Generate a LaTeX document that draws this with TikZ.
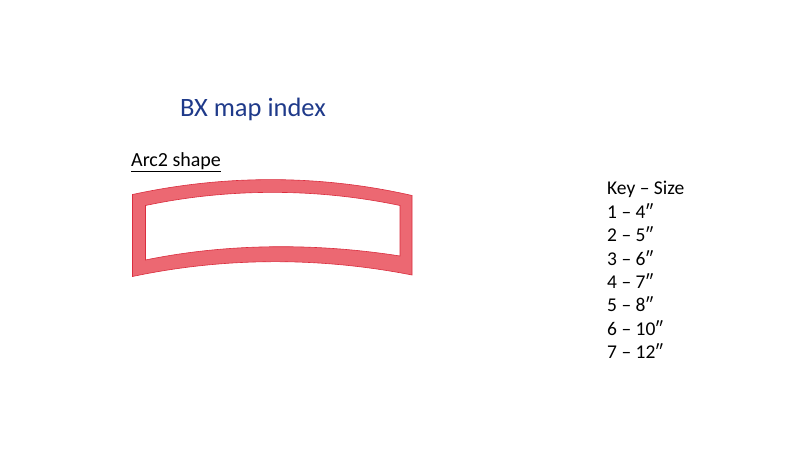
\documentclass[tikz,border=0pt]{standalone}
\usepackage{fontspec}
\setmainfont{Carlito}
\definecolor{titleblue}{RGB}{31,58,138}
\definecolor{patchred}{RGB}{236,104,114}
\definecolor{edgered}{RGB}{218,45,62}
\begin{document}
\begin{tikzpicture}[x=1pt,y=-1pt,
  txt/.style={anchor=base west,inner sep=0pt,font=\fontsize{19.5}{23}\selectfont},
  title/.style={anchor=base west,inner sep=0pt,font=\fontsize{26.5}{31}\selectfont,text=titleblue}]
\useasboundingbox[fill=white] (0,0) rectangle (794,462);
% arc patch
\fill[patchred,draw=edgered,line width=0.6pt,even odd rule]
  (132.5,194.5) .. controls (225,174.5) and (320,174.5) .. (412,195.5)
  -- (412,275) .. controls (320,257) and (225,257) .. (132.5,276.5) -- cycle
  (145.5,205.5) .. controls (228,188) and (317,188) .. (400,205.5)
  -- (400,256) .. controls (317,243) and (228,243) .. (145.5,260) -- cycle;
% texts
\node[title] (t) at (180,116.7) {BX map index};
\node[txt,font=\fontsize{20}{24}\selectfont] (arc) at (131,166.7) {Arc2 shape};
\draw[line width=1pt] ([yshift=-5pt]arc.base west) -- ([yshift=-5pt]arc.base east);
\node[txt] (k0) at (607,195) {Key – Size};
\node[txt] (k1) at (607,218.3) {1 – 4″};
\node[txt] (k2) at (607,241.7) {2 – 5″};
\node[txt] (k3) at (607,265) {3 – 6″};
\node[txt] (k4) at (607,288.3) {4 – 7″};
\node[txt] (k5) at (607,311.7) {5 – 8″};
\node[txt] (k6) at (607,335) {6 – 10″};
\node[txt] (k7) at (607,358.3) {7 – 12″};
\end{tikzpicture}
\end{document}
